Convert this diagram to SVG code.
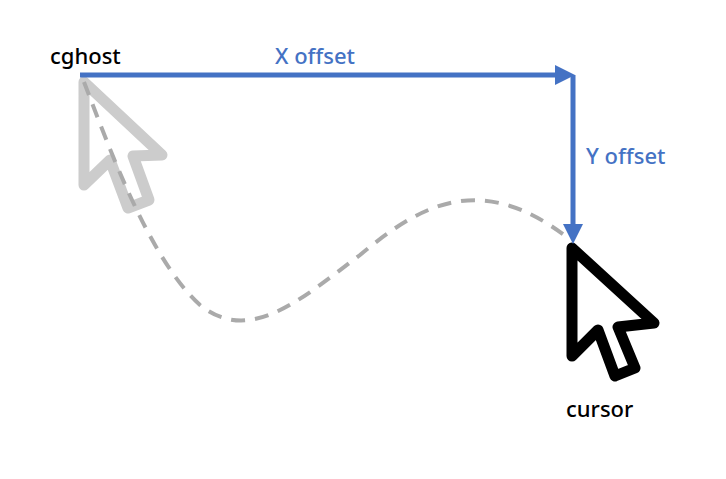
<svg xmlns="http://www.w3.org/2000/svg" width="726" height="479" viewBox="0 0 726 479">
<style>
.t{font-family:"Noto Sans","DejaVu Sans",sans-serif;font-size:22px;font-weight:500}
.b{fill:#4472c4}
.cur{fill:#fff;stroke-width:11;stroke-linejoin:round}
</style>
<defs>
<marker id="ah" markerWidth="4" markerHeight="4" refX="1" refY="2" orient="auto" markerUnits="strokeWidth"><path d="M0,0 L4,2 L0,4 Z" fill="#4472c4"/></marker>
</defs>
<rect width="726" height="479" fill="#fff"/>
<g id="ghost"><path class="cur" stroke="#cccccc" d="M84,82 L84,185 L110,160 L128,208 L149,200 L133,156 L162,155 Z"/></g>
<g id="cursor"><path class="cur" stroke="#000" d="M572,248 L572,356 L598,330 L615,376 L635,368 L618,327 L654,323 Z"/></g>
<g id="connectors" fill="none">
<path d="M84,82 C110,150 150,260 200,305 C250,345 300,300 360,255 C420,205 480,170 568,238" stroke="#aaaaaa" stroke-width="4" stroke-dasharray="14 10"/>
<path d="M80,75 L560,75" stroke="#4472c4" stroke-width="5" marker-end="url(#ah)"/>
<path d="M573,75 L573,229" stroke="#4472c4" stroke-width="5" marker-end="url(#ah)"/>
</g>
<text class="t" x="50" y="64">cghost</text>
<text class="t b" x="275" y="64">X offset</text>
<text class="t b" x="586" y="164">Y offset</text>
<text class="t" x="566" y="417">cursor</text>
</svg>
